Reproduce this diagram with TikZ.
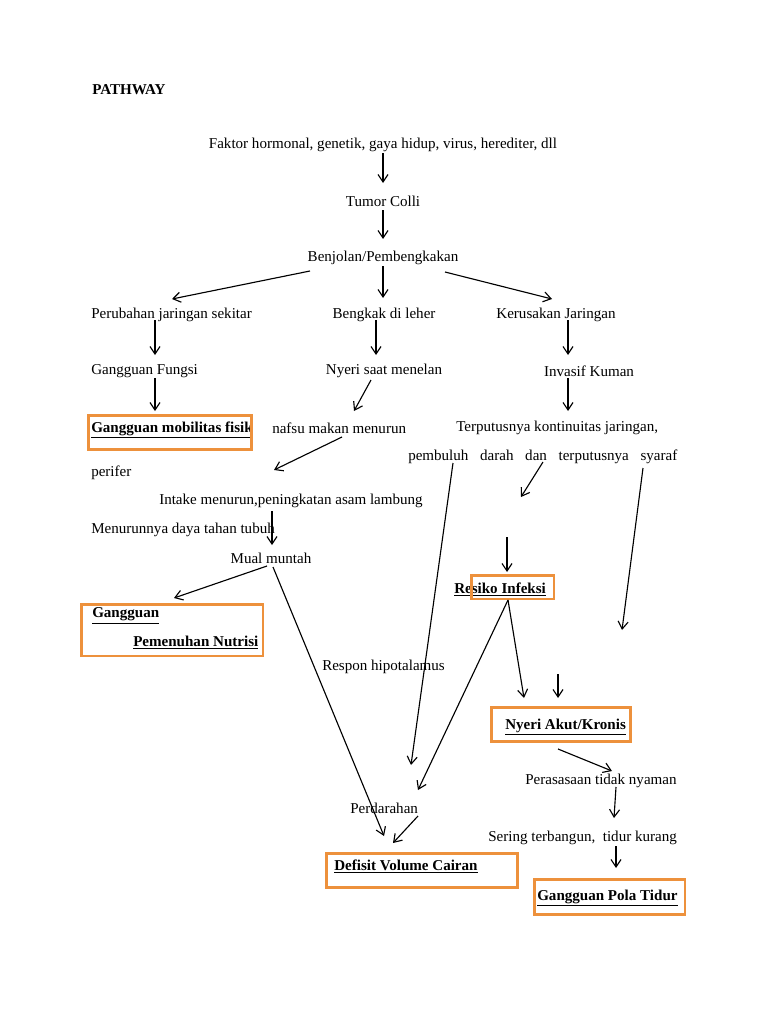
\documentclass[tikz,border=0pt]{standalone}
\usepackage{fontspec}
\setmainfont{Liberation Serif}
\usetikzlibrary{arrows.meta}
\definecolor{boxorange}{RGB}{237,145,60}
\begin{document}
\begin{tikzpicture}[x=0.796875pt,y=-0.796875pt,
  txt/.style={inner sep=0pt, yshift=-1.6pt, font=\fontsize{12}{14}\selectfont},
  tw/.style={txt, anchor=west},
  hd/.style={tw, yshift=-1.4pt, font=\fontsize{12}{14}\selectfont\bfseries},
  arr/.style={-{Straight Barb[length=6pt,width=8pt]}, line width=0.9pt},
  obox/.style={draw=boxorange, line width=2pt, inner sep=0pt, anchor=north west},
]
\useasboundingbox[fill=white] (0,0) rectangle (768,1024);
% texts
\node[hd] (title) at (92,86) {PATHWAY};
\node[txt] (fak) at (383,143) {Faktor hormonal, genetik, gaya hidup, virus, herediter, dll};
\node[txt] (tumor) at (383,199) {Tumor Colli};
\node[txt] (benj) at (383,256) {Benjolan/Pembengkakan};
\node[tw] (perub) at (91,313) {Perubahan jaringan sekitar};
\node[txt] (bengkak) at (384,313) {Bengkak di leher};
\node[txt] (kerus) at (556,313) {Kerusakan Jaringan};
\node[tw] (gfungsi) at (91,369) {Gangguan Fungsi};
\node[txt] (nyeri) at (384,369) {Nyeri saat menelan};
\node[txt] (invasif) at (589,369) {Invasif Kuman};
\node[hd] (mobil) at (91,426) {\underline{Gangguan mobilitas fisik}};
\node[tw] (nafsu) at (272,426) {nafsu makan menurun};
\node[tw] (terput) at (456,426) {Terputusnya kontinuitas jaringan,};
\node[tw] (pembuluh) at (408,455) {\makebox[214.4pt][s]{pembuluh darah dan terputusnya syaraf}};
\node[tw] (perifer) at (91,471) {perifer};
\node[tw] (intake) at (159,499) {Intake menurun,peningkatan asam lambung};
\node[tw] (menurun) at (91,528) {Menurunnya daya tahan tubuh};
\node[txt] (mual) at (271,556) {Mual muntah};
\node[hd] (resiko) at (454,586) {\underline{Resiko Infeksi}};
\node[hd] (gangguan) at (92,612) {\underline{Gangguan}};
\node[hd] (pemenuhan) at (133,639) {\underline{Pemenuhan Nutrisi}};
\node[tw] (respon) at (322,665) {Respon hipotalamus};
\node[hd] (nyeriak) at (505,723) {\underline{Nyeri Akut/Kronis}};
\node[tw] (perasaan) at (525,779) {Perasasaan tidak nyaman};
\node[tw] (perdarahan) at (350,806) {Perdarahan};
\node[tw] (sering) at (488,836) {Sering terbangun,\ \ tidur kurang};
\node[hd] (defisit) at (334,863) {\underline{Defisit Volume Cairan}};
\node[hd] (pola) at (537,894) {\underline{Gangguan Pola Tidur}};
% boxes
\node[obox, minimum width=129.9pt, minimum height=27.1pt] (bmobil) at (87,414) {};
\node[obox, minimum width=66.1pt, minimum height=19.1pt] (bresiko) at (470,574) {};
\node[obox, minimum width=145.0pt, minimum height=41.4pt] (bnutri) at (80,603) {};
\node[obox, minimum width=110.8pt, minimum height=27.1pt] (bnyeri) at (490,706) {};
\node[obox, minimum width=152.2pt, minimum height=27.1pt] (bdefisit) at (325,852) {};
\node[obox, minimum width=120.3pt, minimum height=27.9pt] (bpola) at (533,878) {};
% connector end points
\coordinate (a1s) at (383,153); \coordinate (a1e) at (383,183);
\coordinate (a2s) at (383,210); \coordinate (a2e) at (383,239);
\coordinate (a3s) at (383,266); \coordinate (a3e) at (383,298);
\coordinate (a4s) at (310,271); \coordinate (a4e) at (172,299);
\coordinate (a5s) at (445,272); \coordinate (a5e) at (552,299);
\coordinate (a6s) at (155,320); \coordinate (a6e) at (155,355);
\coordinate (a7s) at (376,320); \coordinate (a7e) at (376,355);
\coordinate (a8s) at (568,320); \coordinate (a8e) at (568,355);
\coordinate (a9s) at (155,378); \coordinate (a9e) at (155,411);
\coordinate (a10s) at (371,380); \coordinate (a10e) at (354,411);
\coordinate (a11s) at (568,378); \coordinate (a11e) at (568,411);
\coordinate (a12s) at (342,437); \coordinate (a12e) at (274,470);
\coordinate (a13s) at (543,462); \coordinate (a13e) at (521,497);
\coordinate (a14s) at (272,511); \coordinate (a14e) at (272,545);
\coordinate (a15s) at (507,537); \coordinate (a15e) at (507,572);
\coordinate (a16s) at (453,463); \coordinate (a16e) at (411,765);
\coordinate (a17s) at (643,468); \coordinate (a17e) at (622,630);
\coordinate (a18s) at (267,566); \coordinate (a18e) at (174,598);
\coordinate (a19s) at (273,567); \coordinate (a19e) at (384,836);
\coordinate (a20s) at (508,600); \coordinate (a20e) at (418,790);
\coordinate (a21e) at (524,698);
\coordinate (a22s) at (558,674); \coordinate (a22e) at (558,698);
\coordinate (a23s) at (558,749); \coordinate (a23e) at (612,771);
\coordinate (a24s) at (616,787); \coordinate (a24e) at (614,818);
\coordinate (a25s) at (418,816); \coordinate (a25e) at (393,843);
\coordinate (a26s) at (616,846); \coordinate (a26e) at (616,868);
% connectors
\foreach \i in {1,...,20,22,23,24,25,26}{\draw[arr] (a\i s) -- (a\i e);}
\draw[arr] (a20s) -- (a21e);
\end{tikzpicture}
\end{document}
